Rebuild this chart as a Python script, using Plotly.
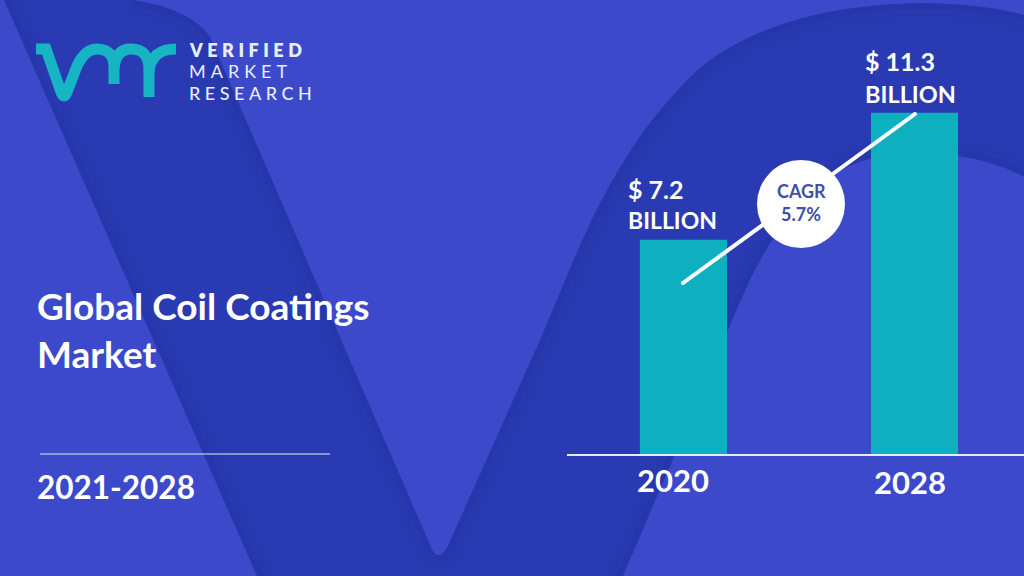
import plotly.graph_objects as go

years = ['2020', '2028']
market_size = [7.2, 11.3]
cagr = '5.7%'
title_lines = ['Global Coil Coatings', 'Market']
period = '2021-2028'
logo_lines = ['VERIFIED', 'MARKET', 'RESEARCH']

W, H = 1024, 576
DARK = '#2a3ab3'
LIGHT = '#3b49ca'
TEAL = '#0eb0c0'
LOGO_TEAL = '#17b5c3'
FONT = 'Lato'

# background pieces, in pixels from the top left of the picture
left_wedge = 'M0,0 L4,0 L257,576 L0,576 Z'
centre_v = ('M133,0 C165,5 195,15 210,37 L430,545 Q437,564 447,548 L540,340 '
            'C575,260 610,150 700,68 C750,28 820,5 920,3 C960,3 1000,8 1024,15 '
            'L1024,0 Z')
lower_right = ('M623,576 L727,333 C745,290 790,165 890,155 '
               'C930,150 985,155 1024,177 L1024,576 Z')
logo_paths = [
    'M36,49 L46,49 L61,92 Q64,100 67,92 L77,66 Q85,49 97,49 Q114,49 114,68 L114,84',
    'M114,68 Q116,49 131,49 Q149,49 149,70 L149,97',
    'M149,72 Q151,49 176,49',
]

# the wordmark is spaced out and ligatures are off, neither is a layout option
PAGE_CSS = """
document.body.style.margin='0';
document.body.style.overflow='hidden';
var st=document.createElement('style');
st.textContent='svg text{font-variant-ligatures:none}';
document.head.appendChild(st);
var spacing={VERIFIED:4.5,MARKET:5,RESEARCH:4.5};
document.querySelectorAll('.annotation-text').forEach(function(t){
  var s=spacing[t.textContent];
  if(s){
    t.style.letterSpacing=s+'px';
    t.setAttribute('dx',s*t.textContent.length/2);
  }
});
"""


def scale_path(path):
    # turn pixel path into paper coords
    out, is_x = [], True
    num = ''
    for ch in path + ' ':
        if ch.isdigit() or ch == '.':
            num += ch
            continue
        if num:
            out.append(str(float(num) / W) if is_x else str(1 - float(num) / H))
            is_x = not is_x
            num = ''
        out.append(ch)
    return ''.join(out)


def px_x(x):
    return x / W


def px_y(y):
    return 1 - y / H


def add_text(fig, x, y, text, size, color='white', anchor='left', weight=700):
    fig.add_annotation(
        x=px_x(x), y=px_y(y), xref='paper', yref='paper', text=text, showarrow=False,
        xanchor=anchor, yanchor='middle', borderpad=0,
        font=dict(family=FONT, size=size, color=color, weight=weight)
    )


def add_dot(fig, x, y, r, color='white'):
    fig.add_shape(type='circle', x0=px_x(x - r), x1=px_x(x + r), y0=px_y(y + r), y1=px_y(y - r),
                  xref='paper', yref='paper', fillcolor=color, line=dict(width=0))


fig = go.Figure()

fig.add_trace(go.Bar(
    x=years, y=market_size, width=0.377,
    marker=dict(color=TEAL, line=dict(width=0)),
    hoverinfo='skip', showlegend=False
))

# soft shadow round the light pieces
for piece in [left_wedge, centre_v, lower_right]:
    for w, op in [(44, 0.05), (26, 0.06), (12, 0.08)]:
        fig.add_shape(type='path', path=scale_path(piece), xref='paper', yref='paper',
                      layer='below', line=dict(color='#1a2a90', width=w),
                      fillcolor='rgba(0,0,0,0)', opacity=op)
for piece in [left_wedge, centre_v, lower_right]:
    fig.add_shape(type='path', path=scale_path(piece), xref='paper', yref='paper',
                  layer='below', line=dict(width=0), fillcolor=LIGHT)

for p in logo_paths:
    fig.add_shape(type='path', path=scale_path(p), xref='paper', yref='paper',
                  layer='below', line=dict(color=LOGO_TEAL, width=11),
                  fillcolor='rgba(0,0,0,0)')

# rule under the left title
fig.add_shape(type='line', x0=px_x(40), x1=px_x(330), y0=px_y(454), y1=px_y(454),
              xref='paper', yref='paper', line=dict(color='#e8eaf8', width=1.2))

# growth line and CAGR badge
fig.add_shape(type='line', x0=px_x(683), y0=px_y(283), x1=px_x(915), y1=px_y(114),
              xref='paper', yref='paper', line=dict(color='white', width=4))
add_dot(fig, 683, 283, 2)
add_dot(fig, 915, 114, 2)
add_dot(fig, 801, 204, 44)

add_text(fig, 801, 191, 'CAGR', 18, color='#404fa8', anchor='center')
add_text(fig, 801, 214, cagr, 18, color='#404fa8', anchor='center')

add_text(fig, 35.5, 305, title_lines[0], 37)
add_text(fig, 35.5, 353, title_lines[1], 37)
add_text(fig, 35.5, 487, period, 31.5)

add_text(fig, 626.5, 189, f'$ {market_size[0]}', 25)
add_text(fig, 626.5, 220, 'BILLION', 23)
add_text(fig, 863.5, 61, f'$ {market_size[1]}', 25)
add_text(fig, 863.5, 94, 'BILLION', 23.5)
add_text(fig, 673, 480, years[0], 31, anchor='center')
add_text(fig, 910, 482, years[1], 31, anchor='center')

# logo wordmark
logo_y = [50, 71.5, 93.5]
for line, y, w in zip(logo_lines, logo_y, [800, 400, 500]):
    add_text(fig, 188, y, line, 18, color='#e9ecfa', weight=w)

fig.update_layout(
    width=W, height=H,
    margin=dict(l=0, r=0, t=0, b=0, pad=0),
    paper_bgcolor=DARK,
    plot_bgcolor='rgba(0,0,0,0)',
    showlegend=False,
    xaxis=dict(
        domain=[567 / W, 1], type='category', range=[-0.504, 1.474],
        showgrid=False, zeroline=False, showticklabels=False, ticks='',
        showline=True, linecolor='#e8eaf8', linewidth=2
    ),
    yaxis=dict(
        domain=[122 / H, 1], range=[0.29, 14.935],
        showgrid=False, zeroline=False, showticklabels=False, ticks=''
    )
)

fig.write_html('out.html', config={'displayModeBar': False}, post_script=PAGE_CSS)
